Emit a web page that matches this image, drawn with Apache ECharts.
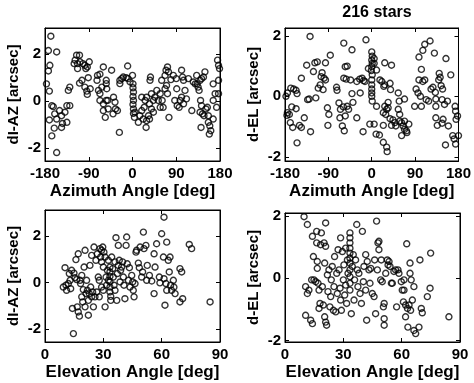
<!DOCTYPE html>
<html><head><meta charset="utf-8">
<script src="https://cdn.jsdelivr.net/npm/echarts@6/dist/echarts.min.js"></script>
<style>html,body{margin:0;padding:0;background:#fff}#c{width:474px;height:383px}</style>
</head><body><div id="c"></div>
<script>
const azTicks = [-180, -90, 0, 90, 180];
const elTicks = [0, 30, 60, 90];
const dTicks = [-2, 0, 2];
const titleText = '216 stars';

// [azimuth deg, dI-AZ arcsec]
const azDIAZ = [
[-168,2.77],[-173,2.16],[-170,1.53],[-173,1.29],[-156,2.1],[-177,0.74],[-171,0.43],[-166,-0.19],[-163,-0.23],[-171,-0.8],
[-160,-0.54],[-156,-0.76],[-161,-1.15],[-166,-1.48],[-156,-2.19],[-150,-0.4],[-146,-0.62],[-144,-0.95],[-146,-1.12],[-139,-0.47],
[-135,-0.9],[-135,-0.19],[-129,-0.19],[-132,0.46],[-129,0.6],[-120,1.6],[-118,1.75],[-115,1.96],[-109,1.96],[-113,1.6],
[-108,1.68],[-102,1.6],[-98,1.53],[-93,1.46],[-96,1.39],[-89,1.68],[-113,1.39],[-104,0.89],[-109,0.77],[-98,0.6],
[-94,0.43],[-87,0.53],[-91,1.0],[-93,0.29],[-72,1.1],[-67,1.15],[-60,1.46],[-73,0.89],[-70,0.46],[-67,0.32],
[-63,0.6],[-67,0.03],[-60,-0.11],[-60,-0.4],[-54,0.03],[-56,-0.69],[-54,0.89],[-54,0.75],[-53,0.53],[-51,0.03],
[-50,-0.33],[-43,1.32],[-39,0.17],[-36,-0.04],[-40,-0.54],[-35,-0.33],[-31,-0.4],[-27,-1.33],[-26,0.89],[-22,0.96],
[-19,1.03],[-13,1.0],[-10,1.5],[-26,0.75],[-9,0.96],[0,1.1],[-5,0.82],[1,0.74],[1,0.57],[2,0.39],
[1,0.2],[2,0.03],[1,-0.14],[2,-0.33],[2,-0.52],[4,-0.69],[5,-0.47],[12,-0.9],[15,-0.62],[19,-0.4],
[19,0.17],[22,-0.76],[24,-0.26],[28,-1.12],[29,-0.83],[26,0.03],[29,0.17],[33,-0.62],[35,-0.11],[36,0.89],
[37,1.03],[39,0.32],[35,-0.76],[39,-0.33],[43,0.03],[43,-0.47],[46,0.17],[50,0.46],[53,0.03],[57,-0.26],
[60,0.89],[57,0.32],[61,0.03],[63,-0.26],[67,1.1],[69,1.32],[72,1.46],[74,1.25],[67,0.53],[72,0.32],
[70,0.67],[75,-0.69],[79,0.92],[84,1.1],[90,0.96],[91,0.53],[87,0.03],[92,-0.19],[98,0.03],[96,-0.26],
[101,1.32],[103,1.03],[101,0.17],[105,0.89],[108,0.46],[105,-0.11],[111,0.1],[115,0.96],[122,-0.4],[125,0.82],
[129,0.74],[132,1.1],[135,0.6],[137,0.46],[133,0.74],[139,0.89],[142,0.96],[146,1.03],[149,1.25],[140,0.03],
[142,-0.19],[139,-0.47],[144,-0.54],[147,-0.62],[141,-1.12],[151,-0.33],[154,-0.26],[156,-0.62],[156,-0.9],[159,-1.05],
[158,-1.4],[161,-1.26],[166,-0.76],[166,0.03],[170,0.32],[166,0.74],[173,-0.26],[175,1.75],[177,1.53],[179,1.39],
[177,0.89],[177,0.32]
];

// [azimuth deg, d-EL arcsec]
const azDEL = [
[-128,1.98],[-58,1.76],[-41,1.54],[-12,1.87],[-175,0.11],[-178,0],[-168,0.27],[-162,0.24],[-157,0.2],[-155,0.09],
[-175,-0.54],[-171,-0.6],[-176,-0.63],[-166,-0.35],[-157,-0.41],[-169,-0.87],[-164,-1.03],[-155,-1.54],[-150,-0.96],[-146,-1.03],
[-140,-0.71],[-146,0.6],[-135,1.03],[-133,-0.11],[-130,-0.09],[-127,-1.17],[-121,0.82],[-118,1.11],[-113,1.14],[-116,-0.05],
[-111,0.27],[-107,0.38],[-103,0.78],[-105,0.65],[-99,0.6],[-96,0.54],[-101,0.22],[-96,1.11],[-92,-0.38],[-91,-0.96],
[-89,-0.6],[-86,1.36],[-73,0.3],[-72,0.2],[-68,-0.22],[-65,-0.43],[-66,-0.71],[-61,-0.98],[-59,-0.35],[-58,0.6],
[-55,0.98],[-51,1.0],[-53,0.57],[-57,-1.14],[-55,-0.65],[-51,-0.33],[-48,-0.43],[-44,0.54],[-41,0.09],[-39,-0.2],
[-31,-0.71],[-31,0.49],[-25,0.57],[-24,0.11],[-20,0.6],[-18,-1.17],[-17,0.52],[-14,0.49],[0,1.47],[1,1.33],
[0,1.2],[1,1.09],[0,0.98],[-1,0.85],[1,0.71],[0,0.54],[0,0.38],[0,0.24],[0,0.11],[0,0],
[1,-0.16],[-7,0.92],[5,1.25],[5,1.09],[-4,-0.92],[5,-0.92],[10,0.87],[10,-0.33],[9,-1.25],[16,-1.28],
[17,0.54],[21,0.49],[24,-0.54],[27,1.11],[27,0.38],[25,0.33],[24,-0.96],[24,-1.52],[31,-1.68],[32,-1.83],
[27,-0.33],[29,-0.6],[31,-0.43],[34,-0.2],[34,-0.38],[38,0.43],[39,0.22],[41,1.03],[38,-0.74],[41,-0.96],
[44,-0.78],[48,-0.87],[50,-0.98],[55,0.11],[57,-0.16],[55,-0.43],[58,-0.6],[58,-0.82],[62,-0.87],[62,-1.3],
[65,-0.98],[68,-0.82],[68,-1.09],[72,-1.14],[73,-1.2],[68,-0.09],[77,-0.92],[92,0.24],[96,0.11],[98,0.54],
[101,0],[103,-0.33],[89,-0.33],[98,1.3],[103,0.89],[106,1.52],[110,1.72],[121,1.83],[106,0.49],[110,0.54],
[113,-0.11],[118,-0.16],[123,0.24],[127,0.3],[130,1.43],[132,0.13],[133,-0.09],[133,-0.33],[133,-0.71],[136,-0.96],
[139,0.54],[140,0.76],[142,0.63],[144,0.35],[147,0.24],[146,-0.11],[146,-0.89],[148,-0.76],[151,-0.27],[154,1.25],
[153,-1.61],[157,-0.16],[159,-0.98],[164,0.71],[168,-1.3],[171,-1.41],[174,-1.58],[173,-0.33],[174,-0.49],[175,-0.76],
[178,-0.65],[180,-1.3]
];

// [elevation deg, dI-AZ arcsec]
const elDIAZ = [
[10.3,0.64],[9.4,-0.19],[10.8,-0.11],[11.1,-0.33],[12,-0.04],[12.5,0.39],[12.9,0.1],[13.2,-0.26],[13.7,0.53],[14.1,-1.11],
[14.6,-2.19],[14.9,0.41],[15.4,0.21],[15.9,0.99],[16.3,0.13],[16.6,-1.04],[17.1,1.24],[17.1,-1.26],[17.7,-1.44],[18,0.1],
[18.3,-0.04],[18.9,0.31],[18.9,-0.61],[19.4,-0.83],[19.7,-0.3],[20.1,0.67],[20.6,1.39],[20.6,-1.04],[21.1,-0.47],[21.4,0.1],
[21.8,-0.33],[22.3,-1.4],[22.3,-0.76],[22.8,-0.47],[23.1,0.74],[23.5,-0.19],[24,1.17],[24,-0.61],[24.5,-0.4],[24.9,-1.04],
[25.2,1.53],[25.7,-0.61],[26.2,0.96],[26.6,-0.4],[26.9,1.24],[27.4,0.24],[27.9,0.1],[27.9,-0.61],[28.3,1.46],[28.6,1.1],
[29.1,1.39],[29.1,0.89],[29.1,-0.19],[29.7,1.53],[30,0.67],[30,-0.33],[30.3,1.31],[30.9,-1.04],[30.9,1.1],[31.4,0.24],
[31.7,-0.11],[32.1,0.53],[32.6,0.96],[32.6,0.1],[33.4,0.67],[33.4,0.46],[33.4,0.27],[33.4,0.03],[33.4,-0.19],[33.4,-0.4],
[33.8,-0.59],[33.8,-0.76],[34.3,1.1],[34.8,0.6],[35.1,0.24],[35.5,-0.11],[36,0.89],[36,-0.33],[36.5,1.93],[36.9,-0.76],
[37.2,0.39],[37.7,1.6],[37.7,0.74],[38.2,0.96],[38.6,0.03],[38.9,0.53],[39.4,0.67],[39.9,0.89],[40.3,0.24],[40.6,-0.11],
[41.1,-0.69],[41.7,1.6],[42,1.96],[42.3,0.81],[42.9,0.1],[43.4,0.64],[43.7,-0.19],[44.6,0.31],[45.1,0.03],[45.4,-0.33],
[45.8,-0.61],[46.3,-0.04],[46.8,1.31],[47.1,1.39],[48,0.84],[48.5,0.64],[48.9,1.53],[49.7,0.24],[50.2,0.46],[50.6,2.17],
[50.9,1.46],[51.9,1.6],[52.3,0.1],[52.6,0.74],[53.7,0.31],[54.9,0.07],[56.1,-0.47],[56.1,1.24],[56.6,0.67],[57.4,1.67],
[58.8,0.24],[59.1,-0.01],[60,2.1],[60.9,1.1],[61.2,2.81],[61.7,-0.97],[61.2,0.17],[62.2,-0.04],[62.6,1.74],[62.6,-0.33],
[63.4,0.96],[63.9,0.46],[64.3,1.1],[64.6,-0.11],[65.1,-0.33],[66,0.1],[66.3,-0.19],[66.9,-0.47],[69.4,-0.83],[69.4,0.6],
[70.8,-0.69],[70.3,0.46],[74.2,1.64],[75.4,1.46],[84.9,-0.83]
];

// [elevation deg, d-EL arcsec]
const elDEL = [
[9.8,1.98],[11.5,1.73],[10.6,-0.27],[11.5,-0.49],[10.6,-1.19],[12.3,-0.38],[13.2,-1.35],[14.1,-1.46],[13.7,-0.05],[14.1,1.35],
[14.6,0.7],[14.9,-0.05],[15.8,-0.11],[16.3,1.51],[16.3,1.14],[16.6,0.54],[16.6,0.32],[17,-0.16],[17.5,-0.38],[17.5,-0.97],
[18,-0.81],[18.3,1.08],[18.7,1.46],[19.2,-0.27],[19.7,-0.86],[20.1,1.14],[20.4,0.49],[20.4,-1.24],[20.9,1.03],[20.9,1.78],
[20.9,-1.41],[21.4,-1.51],[21.8,0.11],[22.1,-0.43],[22.6,0.27],[23.1,-0.92],[23.5,-0.59],[23.8,-0.05],[24.3,0.38],[24.9,-1.03],
[25.2,-0.27],[25.5,0.7],[26.1,-1.08],[26.6,0.16],[26.9,-0.49],[27.3,0.92],[27.8,0.27],[28.3,-0.32],[28.6,1.3],[28.6,-0.7],
[29,-1.03],[29.5,0.86],[30,-0.05],[30.3,0.43],[30.7,-0.54],[31.2,0.97],[31.2,-0.22],[31.7,-0.81],[32.1,0.59],[32.4,0.16],
[33.4,1.46],[33.4,1.3],[33.4,1.14],[33.4,0.97],[33.4,0.81],[33.4,0.65],[33.4,0.49],[33.4,0.27],[33.4,0.05],[33.4,-0.16],
[33.4,-0.38],[34.1,-1.14],[34.6,0.38],[35.1,0.76],[35.5,-0.7],[35.8,-0.05],[36.3,0.59],[36.9,1.73],[37.2,0.27],[37.5,-0.27],
[38,0.16],[38.6,-0.49],[39.3,-0.81],[39.8,1.51],[40.3,-0.11],[40.6,0.38],[41.5,0.76],[41.5,-0.38],[42,-1.35],[42.3,0.54],
[43.2,0.27],[43.7,-0.16],[44.1,0.32],[44.9,-0.49],[45.8,-0.59],[46.1,0.59],[46.6,-1.14],[47.1,1.84],[47.5,0.27],[47.8,1.14],
[48.3,1.19],[48.3,0.92],[49.2,-0.05],[49.5,0.59],[50,-0.11],[50.6,-0.92],[51,-0.81],[51,-1.3],[51,-1.51],[51.8,0.16],
[52.6,0.59],[53,0.43],[53.5,0.54],[54,0.38],[54.7,-0.16],[55.2,-0.16],[56,0.22],[56.9,0.27],[57.4,-0.92],[58.1,0.27],
[58.6,0.16],[59.8,-0.11],[60.3,-0.38],[60.9,-0.76],[61.2,-0.05],[61.2,-0.38],[62,-0.86],[62,-1.24],[62.6,1.11],[63,-0.97],
[63.2,-1.57],[63.8,-0.86],[64.3,0.49],[64.3,0.16],[64.6,-1.03],[64.9,-0.05],[65.5,-0.7],[66.3,-0.27],[66.3,-1.68],[67.2,-1.78],
[68.9,-1.57],[69.4,0.59],[70.1,-0.97],[70.6,-1.11],[73.2,-0.59],[74.6,-0.32],[74.9,0.81],[84.3,-1.24]
];

const FONT = "'Liberation Sans', Arial, sans-serif";
const panels = [
  {grid:{left:45, top:28, width:175, height:133}, x:[-180,180,90], xt:azTicks, xn:'Azimuth Angle [deg]', y:[-2.55,3.12], yn:'dI-AZ [arcsec]', data:azDIAZ},
  {grid:{left:285, top:28, width:175, height:133}, x:[-180,180,90], xt:azTicks, xn:'Azimuth Angle [deg]', y:[-2.14,2.26], yn:'d-EL [arcsec]', data:azDEL},
  {grid:{left:45, top:210, width:175, height:132}, x:[0,90,30], xt:elTicks, xn:'Elevation Angle [deg]', y:[-2.55,3.12], yn:'dI-AZ [arcsec]', data:elDIAZ},
  {grid:{left:285, top:213, width:175, height:129}, x:[0,90,30], xt:elTicks, xn:'Elevation Angle [deg]', y:[-2.05,2.1], yn:'d-EL [arcsec]', data:elDEL}
];

const grid = [], xAxis = [], yAxis = [], series = [];
const lbl = {color:'#000', fontFamily:FONT, fontWeight:'bold', fontSize:15};
const tick = {inside:true, length:4, lineStyle:{color:'#000', width:1}};
panels.forEach((p, i) => {
  grid.push(Object.assign({show:true, borderColor:'#000', borderWidth:1, backgroundColor:'#fff'}, p.grid));
  const xBase = {gridIndex:i, type:'value', min:p.x[0], max:p.x[1], interval:p.x[2], splitLine:{show:false},
    axisLine:{show:true, onZero:false, lineStyle:{color:'#000', width:1}}};
  xAxis.push(Object.assign({}, xBase, {position:'bottom', axisTick:Object.assign({customValues:p.xt}, tick),
    axisLabel:Object.assign({customValues:p.xt, margin:5}, lbl),
    name:p.xn, nameLocation:'middle', nameGap:22,
    nameTextStyle:{color:'#000', fontFamily:FONT, fontWeight:'bold', fontSize:17}}));
  xAxis.push(Object.assign({}, xBase, {position:'top', axisTick:Object.assign({customValues:p.xt}, tick), axisLabel:{show:false}}));
  const yBase = {gridIndex:i, type:'value', min:p.y[0], max:p.y[1], splitLine:{show:false},
    axisLine:{show:true, onZero:false, lineStyle:{color:'#000', width:1}}};
  yAxis.push(Object.assign({}, yBase, {position:'left', axisTick:Object.assign({customValues:dTicks}, tick),
    axisLabel:Object.assign({customValues:dTicks, margin:4}, lbl),
    name:p.yn, nameLocation:'middle', nameGap:24,
    nameTextStyle:{color:'#000', fontFamily:FONT, fontWeight:'bold', fontSize:15}}));
  yAxis.push(Object.assign({}, yBase, {position:'right', axisTick:Object.assign({customValues:dTicks}, tick), axisLabel:{show:false}}));
  series.push({type:'scatter', xAxisIndex:2*i, yAxisIndex:2*i, data:p.data, symbol:'circle', symbolSize:6,
    itemStyle:{color:'rgba(0,0,0,0)', borderColor:'#000', borderWidth:1.4}, silent:true, animation:false});
});

const chart = echarts.init(document.getElementById('c'), null, {renderer:'canvas'});
chart.setOption({
  backgroundColor:'#fff', animation:false,
  title:{text:titleText, left:372, top:0, textAlign:'center',
    textStyle:{color:'#000', fontFamily:FONT, fontWeight:'bold', fontSize:16}},
  grid, xAxis, yAxis, series
});
</script></body></html>
